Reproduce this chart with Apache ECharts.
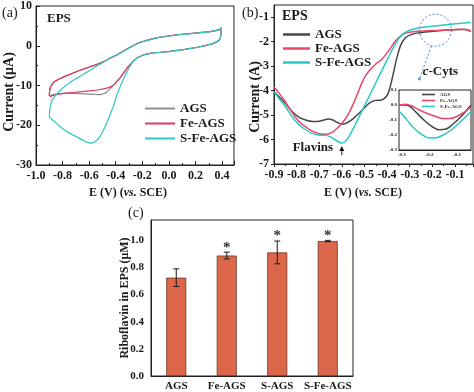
<!DOCTYPE html>
<html><head><meta charset="utf-8">
<script src="https://cdn.jsdelivr.net/npm/echarts@6/dist/echarts.min.js"></script>
<style>html,body{margin:0;padding:0;background:#fff}#c{width:474px;height:392px}</style>
</head><body><div id="c"></div>
<script>
const FONT = 'Liberation Serif';

// ---------- Panel (a): cyclic voltammetry, [E (V), I (uA)] ----------
const cvAGS = [[-0.900,-12.6],[-0.896,-11.2],[-0.886,-10.1],[-0.865,-9.2],[-0.83,-8.5],[-0.78,-7.7],[-0.72,-6.9],[-0.66,-6.1],[-0.60,-5.4],[-0.54,-4.7],[-0.49,-4.0],[-0.44,-3.1],[-0.39,-2.3],[-0.34,-1.3],[-0.29,-0.4],[-0.24,0.5],[-0.18,1.2],[-0.12,1.75],[-0.06,2.15],[0.0,2.45],[0.06,2.7],[0.12,2.9],[0.18,3.1],[0.24,3.3],[0.30,3.5],[0.35,3.75],[0.385,4.1],[0.392,3.3],[0.388,2.1],[0.375,1.3],[0.335,0.6],[0.28,0.1],[0.234,-0.25],[0.17,-0.65],[0.108,-1.0],[0.045,-1.25],[-0.017,-1.5],[-0.08,-1.7],[-0.142,-1.9],[-0.18,-2.2],[-0.217,-2.7],[-0.245,-3.2],[-0.268,-3.9],[-0.30,-5.0],[-0.33,-6.3],[-0.368,-8.1],[-0.39,-8.9],[-0.418,-10.0],[-0.445,-10.9],[-0.468,-11.7],[-0.49,-12.05],[-0.518,-12.3],[-0.56,-12.25],[-0.644,-12.1],[-0.70,-12.0],[-0.769,-11.9],[-0.83,-12.05],[-0.87,-12.3],[-0.900,-12.6]];
const cvFeAGS = [[-0.900,-12.7],[-0.897,-11.3],[-0.887,-10.1],[-0.865,-9.1],[-0.83,-8.45],[-0.78,-7.65],[-0.72,-6.85],[-0.66,-6.05],[-0.60,-5.35],[-0.54,-4.65],[-0.49,-3.95],[-0.44,-3.05],[-0.39,-2.25],[-0.34,-1.25],[-0.29,-0.35],[-0.24,0.55],[-0.18,1.25],[-0.12,1.8],[-0.06,2.2],[0.0,2.5],[0.06,2.75],[0.12,2.95],[0.18,3.15],[0.24,3.35],[0.30,3.55],[0.35,3.8],[0.385,4.1],[0.392,3.3],[0.388,2.1],[0.375,1.3],[0.335,0.6],[0.28,0.1],[0.234,-0.25],[0.17,-0.65],[0.108,-1.0],[0.045,-1.25],[-0.017,-1.5],[-0.08,-1.7],[-0.142,-1.9],[-0.18,-2.2],[-0.217,-2.7],[-0.245,-3.2],[-0.268,-3.9],[-0.30,-5.0],[-0.33,-6.3],[-0.368,-8.1],[-0.39,-8.9],[-0.418,-9.9],[-0.445,-10.4],[-0.468,-10.65],[-0.518,-11.0],[-0.58,-11.3],[-0.644,-11.5],[-0.70,-11.7],[-0.769,-11.9],[-0.83,-12.2],[-0.87,-12.5],[-0.895,-12.75],[-0.900,-12.7]];
const cvSFeAGS = [[-0.900,-18.0],[-0.896,-16.2],[-0.888,-14.6],[-0.875,-13.5],[-0.85,-12.4],[-0.82,-11.3],[-0.78,-10.1],[-0.74,-9.1],[-0.70,-8.3],[-0.66,-7.5],[-0.62,-6.7],[-0.58,-5.9],[-0.54,-5.0],[-0.49,-4.1],[-0.44,-3.1],[-0.39,-2.3],[-0.34,-1.3],[-0.29,-0.4],[-0.24,0.5],[-0.18,1.2],[-0.12,1.75],[-0.06,2.15],[0.0,2.45],[0.06,2.7],[0.12,2.9],[0.18,3.1],[0.24,3.3],[0.30,3.5],[0.35,3.8],[0.385,4.3],[0.395,4.7],[0.393,3.4],[0.388,2.1],[0.375,1.3],[0.335,0.6],[0.28,0.1],[0.234,-0.25],[0.17,-0.65],[0.108,-1.0],[0.045,-1.25],[-0.017,-1.5],[-0.08,-1.7],[-0.142,-1.9],[-0.18,-2.2],[-0.217,-2.7],[-0.245,-3.2],[-0.268,-4.0],[-0.29,-5.0],[-0.31,-6.2],[-0.335,-7.9],[-0.368,-10.4],[-0.39,-12.3],[-0.418,-15.2],[-0.445,-17.6],[-0.468,-19.5],[-0.495,-21.4],[-0.518,-22.8],[-0.54,-23.7],[-0.56,-24.2],[-0.59,-24.5],[-0.62,-24.2],[-0.644,-23.8],[-0.70,-22.8],[-0.769,-21.6],[-0.83,-20.0],[-0.87,-18.8],[-0.900,-18.0]];

// ---------- Panel (b): [E (V), I (A)] ----------
const dpvAGS = [[-0.90,-4.05],[-0.878,-4.25],[-0.85,-4.52],[-0.82,-4.85],[-0.79,-5.08],[-0.76,-5.2],[-0.73,-5.26],[-0.70,-5.25],[-0.68,-5.2],[-0.66,-5.16],[-0.64,-5.2],[-0.62,-5.3],[-0.60,-5.37],[-0.585,-5.35],[-0.56,-5.22],[-0.54,-5.06],[-0.51,-4.8],[-0.48,-4.52],[-0.452,-4.4],[-0.425,-4.38],[-0.40,-4.2],[-0.385,-3.8],[-0.37,-3.2],[-0.355,-2.6],[-0.34,-2.15],[-0.32,-1.85],[-0.30,-1.73],[-0.27,-1.65],[-0.23,-1.6],[-0.16,-1.54],[-0.085,-1.5],[-0.05,-1.5],[-0.03,-1.58]];
const dpvFeAGS = [[-0.90,-3.85],[-0.878,-4.1],[-0.85,-4.45],[-0.82,-4.9],[-0.79,-5.25],[-0.76,-5.48],[-0.73,-5.66],[-0.70,-5.76],[-0.67,-5.78],[-0.645,-5.72],[-0.628,-5.6],[-0.605,-5.4],[-0.584,-5.15],[-0.565,-4.85],[-0.545,-4.45],[-0.525,-4.0],[-0.505,-3.55],[-0.48,-3.2],[-0.452,-2.93],[-0.423,-2.72],[-0.393,-2.37],[-0.364,-1.98],[-0.335,-1.73],[-0.305,-1.62],[-0.276,-1.58],[-0.2,-1.54],[-0.12,-1.52],[-0.06,-1.49],[-0.03,-1.56]];
const dpvSFeAGS = [[-0.90,-4.05],[-0.878,-4.32],[-0.85,-4.65],[-0.82,-5.07],[-0.79,-5.38],[-0.76,-5.6],[-0.73,-5.76],[-0.70,-5.82],[-0.672,-5.83],[-0.655,-5.87],[-0.638,-5.96],[-0.615,-6.09],[-0.60,-6.14],[-0.585,-6.08],[-0.57,-5.9],[-0.555,-5.65],[-0.54,-5.38],[-0.526,-5.12],[-0.51,-4.82],[-0.48,-4.25],[-0.452,-3.72],[-0.423,-3.18],[-0.393,-2.62],[-0.37,-2.2],[-0.35,-1.9],[-0.33,-1.68],[-0.305,-1.55],[-0.276,-1.47],[-0.24,-1.41],[-0.203,-1.37],[-0.13,-1.3],[-0.06,-1.24],[-0.03,-1.22]];

// ---------- Inset of (b) ----------
const insAGS = [[-0.31,0.0],[-0.29,0.0],[-0.27,-0.01],[-0.25,-0.045],[-0.22,-0.1],[-0.19,-0.145],[-0.165,-0.165],[-0.14,-0.16],[-0.12,-0.135],[-0.09,-0.085],[-0.07,-0.045],[-0.05,0.0]];
const insFeAGS = [[-0.31,0.0],[-0.285,0.005],[-0.265,-0.005],[-0.24,-0.03],[-0.21,-0.055],[-0.18,-0.075],[-0.15,-0.09],[-0.125,-0.09],[-0.10,-0.075],[-0.08,-0.055],[-0.05,-0.015]];
const insSFeAGS = [[-0.31,-0.04],[-0.29,-0.08],[-0.27,-0.125],[-0.25,-0.165],[-0.225,-0.2],[-0.20,-0.22],[-0.175,-0.218],[-0.15,-0.2],[-0.12,-0.165],[-0.09,-0.115],[-0.05,-0.045]];

// ---------- Panel (c) ----------
const categories = ['AGS', 'Fe-AGS', 'S-AGS', 'S-Fe-AGS'];
const riboMean = [0.725, 0.888, 0.911, 0.995];
const riboErr = [0.065, 0.025, 0.084, 0.005];
const riboSig = ['', '*', '*', '*'];

const seriesNames = ['AGS', 'Fe-AGS', 'S-Fe-AGS'];
const colA = ['#8e8e8e', '#e03a62', '#2fc6c6'];
const colB = ['#474747', '#e8486a', '#2cc8c8'];

const fmt1 = v => (Math.abs(v) < 1e-9 ? '0.0' : v.toFixed(1));
const lab = (size, extra) => Object.assign({fontFamily: FONT, fontWeight: 'bold', fontSize: size, color: '#1a1a1a'}, extra || {});
const aLine = {show: true, onZero: false, lineStyle: {color: '#222', width: 1}};

const chart = echarts.init(document.getElementById('c'), null, {renderer: 'canvas'});

const lineSeries = (name, data, xi, color, w) => ({
  type: 'line', name, data, xAxisIndex: xi, yAxisIndex: xi, symbol: 'none', smooth: 0.3,
  lineStyle: {color, width: w}, itemStyle: {color}, silent: true
});

const legendData = cols => seriesNames.map((n, i) => ({name: n, icon: 'rect', itemStyle: {color: cols[i]}}));

const option = {
  animation: false,
  backgroundColor: '#fff',
  grid: [
    {left: 36, right: 240, top: 5, bottom: 227, show: true, borderColor: '#222', borderWidth: 1},
    {left: 274, right: 1, top: 5, bottom: 228, show: true, borderColor: '#222', borderWidth: 1},
    {left: 399, top: 90, width: 72, height: 60, show: true, borderColor: '#222', borderWidth: 1, backgroundColor: '#fff', z: 3},
    {left: 151, right: 121, top: 220, bottom: 14, show: true, borderColor: '#222', borderWidth: 1}
  ],
  xAxis: [
    {type: 'value', gridIndex: 0, min: -1.0, max: 0.49, interval: 0.2, axisLine: aLine,
     axisTick: {inside: true, length: 4, lineStyle: {color: '#222'}}, minorTick: {show: true, splitNumber: 2, length: 2, lineStyle: {color: '#222'}},
     splitLine: {show: false}, axisLabel: lab(12, {margin: 5, showMaxLabel: false, formatter: fmt1})},
    {type: 'value', gridIndex: 1, min: -0.9, max: -0.02, interval: 0.1, axisLine: aLine,
     axisTick: {inside: false, length: 3, lineStyle: {color: '#222'}}, minorTick: {show: true, splitNumber: 2, length: 2, lineStyle: {color: '#222'}},
     splitLine: {show: false}, axisLabel: lab(12, {margin: 5, showMaxLabel: false, formatter: fmt1})},
    {type: 'value', gridIndex: 2, min: -0.31, max: -0.05, axisLine: aLine,
     axisTick: {inside: true, length: 2, customValues: [-0.3, -0.2, -0.1], lineStyle: {color: '#222'}},
     splitLine: {show: false}, axisLabel: lab(5, {margin: 2, customValues: [-0.3, -0.2, -0.1], formatter: fmt1})},
    {type: 'category', gridIndex: 3, data: categories, axisLine: {lineStyle: {color: '#222'}},
     axisTick: {show: false}, axisLabel: lab(11, {margin: 5, interval: 0})}
  ],
  yAxis: [
    {type: 'value', gridIndex: 0, min: -30, max: 10, interval: 10, axisLine: aLine,
     axisTick: {inside: true, length: 4, lineStyle: {color: '#222'}}, minorTick: {show: true, splitNumber: 2, length: 2, lineStyle: {color: '#222'}},
     splitLine: {show: false}, axisLabel: lab(12, {margin: 4})},
    {type: 'value', gridIndex: 1, min: -7, max: -0.5, interval: 1, axisLine: aLine,
     axisTick: {inside: false, length: 3, lineStyle: {color: '#222'}},
     splitLine: {show: false}, axisLabel: lab(12, {margin: 5, showMaxLabel: false})},
    {type: 'value', gridIndex: 2, min: -0.3, max: 0.1, interval: 0.1, axisLine: aLine,
     axisTick: {inside: true, length: 2, lineStyle: {color: '#222'}},
     splitLine: {show: false}, axisLabel: lab(5, {margin: 2, formatter: fmt1})},
    {type: 'value', gridIndex: 3, min: 0, max: 1.15, interval: 0.2, axisLine: aLine,
     axisTick: {inside: false, length: 4, lineStyle: {color: '#222'}},
     splitLine: {show: false}, axisLabel: lab(11, {margin: 7, showMaxLabel: false, formatter: fmt1})}
  ],
  legend: [
    {left: 145, top: 102, padding: 0, orient: 'vertical', itemWidth: 30, itemHeight: 2, itemGap: 2, selectedMode: false,
     textStyle: lab(13), data: legendData(colA)},
    {left: 283, top: 28, padding: 0, orient: 'vertical', itemWidth: 27, itemHeight: 2.5, itemGap: 1, selectedMode: false,
     textStyle: lab(13), data: legendData(colB)},
    {left: 422, top: 92, padding: 0, orient: 'vertical', itemWidth: 13, itemHeight: 1.6, itemGap: 1, itemTextGap: 2, selectedMode: false, z: 5,
     textStyle: lab(5), data: legendData(colB)}
  ],
  series: [
    lineSeries('AGS', cvAGS, 0, colA[0], 1.2),
    lineSeries('Fe-AGS', cvFeAGS, 0, colA[1], 1.2),
    lineSeries('S-Fe-AGS', cvSFeAGS, 0, colA[2], 1.2),
    lineSeries('AGS', dpvAGS, 1, colB[0], 1.5),
    lineSeries('Fe-AGS', dpvFeAGS, 1, colB[1], 1.5),
    lineSeries('S-Fe-AGS', dpvSFeAGS, 1, colB[2], 1.5),
    Object.assign(lineSeries('AGS', insAGS, 2, colB[0], 1.5), {z: 4}),
    Object.assign(lineSeries('Fe-AGS', insFeAGS, 2, colB[1], 1.5), {z: 4}),
    Object.assign(lineSeries('S-Fe-AGS', insSFeAGS, 2, colB[2], 1.5), {z: 4}),
    {type: 'bar', name: 'Riboflavin', xAxisIndex: 3, yAxisIndex: 3, data: riboMean, barWidth: 20, silent: true,
     itemStyle: {color: '#dc674b', borderColor: '#6b3426', borderWidth: 0.8}},
    {type: 'custom', name: 'err', xAxisIndex: 3, yAxisIndex: 3, silent: true, z: 5,
     data: categories.map((c, i) => [i, riboMean[i], riboErr[i]]),
     renderItem: function (params, api) {
       const x = api.value(0), m = api.value(1), e = api.value(2);
       const top = api.coord([x, m + e]), bot = api.coord([x, m - e]);
       const hw = 3, st = {stroke: '#1a1a1a', lineWidth: 1};
       const ch = [
         {type: 'line', shape: {x1: top[0], y1: top[1], x2: bot[0], y2: bot[1]}, style: st},
         {type: 'line', shape: {x1: top[0] - hw, y1: top[1], x2: top[0] + hw, y2: top[1]}, style: st},
         {type: 'line', shape: {x1: bot[0] - hw, y1: bot[1], x2: bot[0] + hw, y2: bot[1]}, style: st}
       ];
       const s = riboSig[params.dataIndex];
       if (s) ch.push({type: 'text', x: top[0], y: top[1] + 3, style: {text: s, fontFamily: FONT, fontWeight: 'bold', fontSize: 15, fill: '#333', align: 'center', verticalAlign: 'bottom'}});
       return {type: 'group', children: ch};
     }}
  ]
};
chart.setOption(option);

// annotations placed through the data coordinate system of panel (b)
const P = (v) => chart.convertToPixel({gridIndex: 1}, v);
const tStyle = (txt, size, extra) => Object.assign({text: txt, fontFamily: FONT, fontWeight: 'bold', fontSize: size, fill: '#1a1a1a', align: 'center', verticalAlign: 'middle'}, extra || {});
const richTitle = {
  text: '{b|E (V) (}{i|vs.}{b| SCE)}',
  rich: {b: {fontFamily: FONT, fontWeight: 'bold', fontSize: 12, fill: '#1a1a1a'},
         i: {fontFamily: FONT, fontWeight: 'bold', fontStyle: 'italic', fontSize: 12, fill: '#1a1a1a'}},
  align: 'center', verticalAlign: 'middle'
};
const cc = P([-0.186, -1.53]);
const l1 = P([-0.204, -2.18]), l2 = P([-0.257, -3.53]);
const fl = P([-0.728, -6.35]);
const a1 = P([-0.6, -6.64]), a2 = P([-0.6, -6.3]);
const cy = P([-0.164, -3.24]);
chart.setOption({graphic: [
  {type: 'text', x: 2, y: 13, style: tStyle('(a)', 14, {fontWeight: 'normal', align: 'left'})},
  {type: 'text', x: 47, y: 19, style: tStyle('EPS', 13, {align: 'left'})},
  {type: 'text', x: 242, y: 13, style: tStyle('(b)', 14, {fontWeight: 'normal', align: 'left'})},
  {type: 'text', x: 282, y: 16, style: tStyle('EPS', 14, {align: 'left'})},
  {type: 'text', x: 128, y: 213, style: tStyle('(c)', 14, {fontWeight: 'normal', align: 'left'})},
  {type: 'text', x: 9, y: 92, rotation: Math.PI / 2, style: tStyle('Current (μA)', 14)},
  {type: 'text', x: 255, y: 97, rotation: Math.PI / 2, style: tStyle('Current (A)', 14)},
  {type: 'text', x: 125, y: 298, rotation: Math.PI / 2, style: tStyle('Riboflavin in EPS (μM)', 12)},
  {type: 'text', x: 128, y: 193, style: richTitle},
  {type: 'text', x: 363, y: 193, style: richTitle},
  {type: 'text', x: fl[0], y: fl[1], style: tStyle('Flavins', 13)},
  {type: 'line', shape: {x1: a1[0], y1: a1[1], x2: a2[0], y2: a2[1] + 3}, style: {stroke: '#111', lineWidth: 1}},
  {type: 'polygon', shape: {points: [[a2[0] - 2.5, a2[1] + 4], [a2[0] + 2.5, a2[1] + 4], [a2[0], a2[1] - 1]]}, style: {fill: '#111'}},
  {type: 'circle', shape: {cx: cc[0], cy: cc[1], r: 16}, style: {fill: 'none', stroke: '#4a86c8', lineWidth: 1, lineDash: [2, 2]}},
  {type: 'line', shape: {x1: l1[0], y1: l1[1], x2: l2[0], y2: l2[1]}, style: {stroke: '#4a86c8', lineWidth: 1, lineDash: [2, 2]}},
  {type: 'circle', shape: {cx: l2[0], cy: l2[1], r: 1.3}, style: {fill: '#4a86c8'}},
  {type: 'text', x: cy[0], y: cy[1], style: {
    text: '{i|c}{b|-Cyts}',
    rich: {b: {fontFamily: FONT, fontWeight: 'bold', fontSize: 13, fill: '#1a1a1a'},
           i: {fontFamily: FONT, fontWeight: 'bold', fontStyle: 'italic', fontSize: 13, fill: '#1a1a1a'}},
    align: 'center', verticalAlign: 'middle'}}
]});
</script>
</body></html>
